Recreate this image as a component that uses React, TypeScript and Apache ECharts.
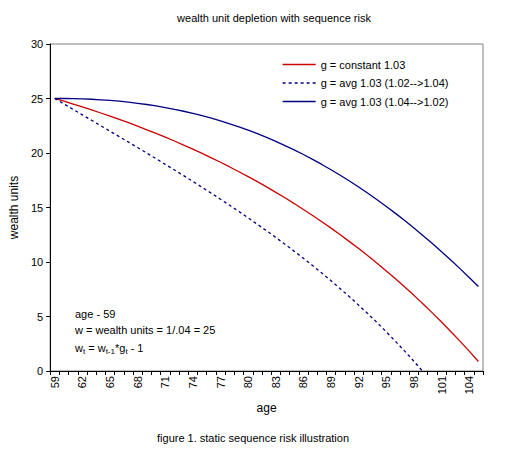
import React, { useEffect, useRef } from "react";
import * as echarts from "echarts";

const ages = [
  "59", "60", "61", "62", "63", "64", "65", "66", "67", "68", "69", "70", "71", "72", "73", "74",
  "75", "76", "77", "78", "79", "80", "81", "82", "83", "84", "85", "86", "87", "88", "89", "90",
  "91", "92", "93", "94", "95", "96", "97", "98", "99", "100", "101", "102", "103", "104", "105",
];

const constantG = [
  25, 24.75, 24.49, 24.23, 23.95, 23.67, 23.38, 23.08, 22.78, 22.46, 22.13, 21.8, 21.45, 21.1,
  20.73, 20.35, 19.96, 19.56, 19.15, 18.72, 18.28, 17.83, 17.37, 16.89, 16.39, 15.89, 15.36,
  14.82, 14.27, 13.7, 13.11, 12.5, 11.87, 11.23, 10.57, 9.88, 9.18, 8.46, 7.71, 6.94, 6.15, 5.33,
  4.49, 3.63, 2.74, 1.82, 0.87,
];

const risingG = [
  25, 24.5, 24.0, 23.5, 23.0, 22.5, 22.0, 21.5, 21.0, 20.5, 19.99, 19.48, 18.96, 18.44, 17.92,
  17.39, 16.85, 16.31, 15.76, 15.2, 14.63, 14.05, 13.46, 12.86, 12.25, 11.63, 10.99, 10.34, 9.67,
  8.98, 8.28, 7.55, 6.81, 6.04, 5.25, 4.44, 3.59, 2.72, 1.82, 0.89, -0.08,
];

const fallingG = [
  25, 25.0, 24.99, 24.97, 24.93, 24.88, 24.82, 24.75, 24.66, 24.56, 24.45, 24.32, 24.17, 24.01,
  23.83, 23.64, 23.42, 23.19, 22.95, 22.68, 22.4, 22.09, 21.77, 21.43, 21.07, 20.68, 20.28, 19.86,
  19.41, 18.95, 18.46, 17.96, 17.43, 16.88, 16.3, 15.71, 15.09, 14.46, 13.8, 13.11, 12.41, 11.69,
  10.94, 10.18, 9.39, 8.58, 7.75,
];

const seriesNames = [
  "g = constant 1.03",
  "g = avg 1.03 (1.02-->1.04)",
  "g = avg 1.03 (1.04-->1.02)",
];

const FONT = "'Liberation Sans', Arial, sans-serif";

export default function App() {
  const ref = useRef<HTMLDivElement>(null);

  useEffect(() => {
    if (!ref.current) return;
    const chart = echarts.init(ref.current, null, { renderer: "svg" });
    chart.setOption({
      animation: false,
      backgroundColor: "#ffffff",
      textStyle: { fontFamily: FONT, color: "#000" },
      title: {
        text: "wealth unit depletion with sequence risk",
        left: 269,
        top: 7,
        textAlign: "center",
        textStyle: { fontSize: 11, fontWeight: "normal", color: "#000", fontFamily: FONT },
      },
      legend: {
        orient: "vertical",
        left: 282,
        top: 59,
        padding: 0,
        itemWidth: 33,
        itemHeight: 12,
        itemGap: 7.5,
        itemStyle: { opacity: 0 },
        lineStyle: { width: 1.3 },
        textStyle: { fontSize: 11, color: "#000", fontFamily: FONT },
        data: seriesNames,
      },
      grid: {
        left: 47,
        top: 44,
        width: 436,
        height: 327,
        show: true,
        borderColor: "#808080",
        borderWidth: 1,
        backgroundColor: "transparent",
      },
      xAxis: {
        type: "category",
        data: ages,
        boundaryGap: true,
        name: "age",
        nameLocation: "middle",
        nameGap: 31,
        nameTextStyle: { fontSize: 12, color: "#000", fontFamily: FONT },
        axisLine: { lineStyle: { color: "#000", width: 1 } },
        axisTick: { show: true, interval: 0, length: 4, lineStyle: { color: "#000" } },
        axisLabel: {
          interval: 2,
          rotate: 90,
          fontSize: 11,
          color: "#000",
          margin: 5,
          fontFamily: FONT,
        },
        splitLine: { show: false },
      },
      yAxis: {
        type: "value",
        min: 0,
        max: 30,
        interval: 5,
        name: "wealth units",
        nameLocation: "middle",
        nameGap: 27,
        nameTextStyle: { fontSize: 12, color: "#000", fontFamily: FONT },
        axisLine: { show: true, lineStyle: { color: "#000", width: 1 } },
        axisTick: { show: true, length: 4, lineStyle: { color: "#000" } },
        axisLabel: { fontSize: 11, color: "#000", margin: 7, fontFamily: FONT },
        splitLine: { show: false },
      },
      series: [
        {
          name: seriesNames[0],
          type: "line",
          data: constantG,
          symbol: "none",
          lineStyle: { color: "#cc0000", width: 1.3 },
          itemStyle: { color: "#cc0000" },
        },
        {
          name: seriesNames[1],
          type: "line",
          data: risingG,
          symbol: "none",
          lineStyle: { color: "#000080", width: 1.3, type: [3, 3] },
          itemStyle: { color: "#000080" },
        },
        {
          name: seriesNames[2],
          type: "line",
          data: fallingG,
          symbol: "none",
          lineStyle: { color: "#000080", width: 1.3 },
          itemStyle: { color: "#000080" },
        },
      ],
      graphic: [
        {
          type: "text",
          left: 75,
          top: 308,
          style: { text: "age - 59", fontSize: 11, fill: "#000", fontFamily: FONT },
        },
        {
          type: "text",
          left: 75,
          top: 324,
          style: {
            text: "w = wealth units = 1/.04 = 25",
            fontSize: 11,
            fill: "#000",
            fontFamily: FONT,
          },
        },
        {
          type: "text",
          left: 75,
          top: 342,
          style: {
            text: "{n|w}{s|t}{n| = w}{s|t-1}{n|*g}{s|t}{n| - 1}",
            fill: "#000",
            fontFamily: FONT,
            rich: {
              n: { fontSize: 11, lineHeight: 16, verticalAlign: "middle", fontFamily: FONT },
              s: { fontSize: 8, lineHeight: 16, verticalAlign: "bottom", fontFamily: FONT },
            },
          },
        },
        {
          type: "text",
          x: 253,
          y: 438,
          style: {
            text: "figure 1. static sequence risk illustration",
            fontSize: 11,
            fill: "#000",
            fontFamily: FONT,
            align: "center",
            verticalAlign: "middle",
          },
        },
      ],
    });
    return () => chart.dispose();
  }, []);

  return (
    <div
      ref={ref}
      style={{ position: "fixed", left: 0, top: 0, width: 507, height: 461 }}
    />
  );
}
